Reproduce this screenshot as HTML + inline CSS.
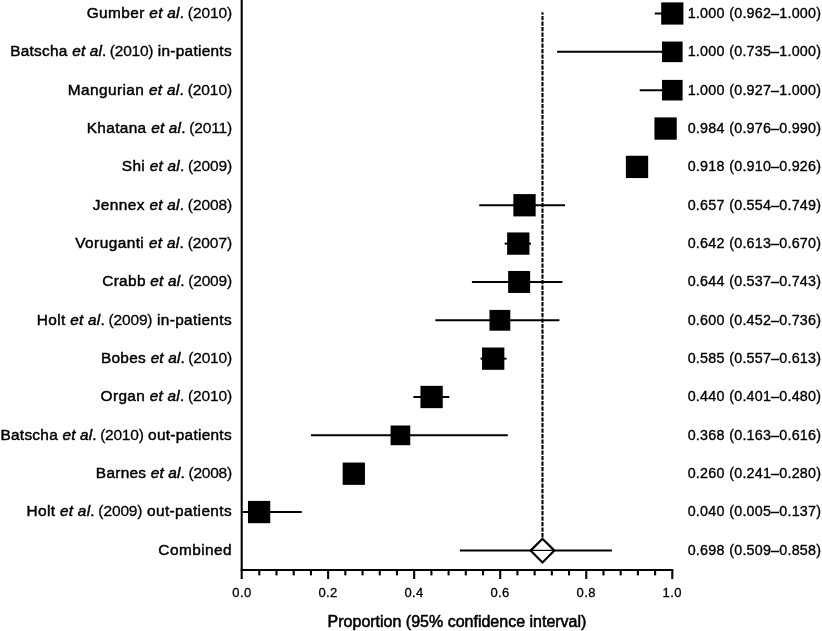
<!DOCTYPE html>
<html><head><meta charset="utf-8"><title>Forest plot</title>
<style>
html,body{margin:0;padding:0;background:#fff;}
svg{display:block;}
text{font-family:"Liberation Sans",Arial,Helvetica,sans-serif;fill:#000;}
.lab{font-size:15.4px;letter-spacing:0.3px;stroke:#000;stroke-width:0.45px;}
.it{font-style:italic;letter-spacing:0.15px;}
.yr{font-size:15.5px;letter-spacing:-0.2px;stroke-width:0.3px;}
.val{font-size:14.3px;letter-spacing:0.22px;word-spacing:0.5px;stroke:#000;stroke-width:0.35px;}
.tick{font-size:13px;letter-spacing:0.4px;stroke:#000;stroke-width:0.3px;}
.title{font-size:16px;letter-spacing:0px;stroke:#000;stroke-width:0.55px;}
</style></head><body>
<svg width="822" height="631" viewBox="0 0 822 631">
<rect width="822" height="631" fill="#fff"/>
<g stroke="#000" stroke-width="2.1" fill="none">
<line x1="241.70" y1="0" x2="241.70" y2="579"/>
<line x1="240.70" y1="570" x2="673.30" y2="570"/>
<line x1="259.31" y1="570" x2="259.31" y2="575.4"/>
<line x1="276.52" y1="570" x2="276.52" y2="575.4"/>
<line x1="293.72" y1="570" x2="293.72" y2="575.4"/>
<line x1="310.93" y1="570" x2="310.93" y2="575.4"/>
<line x1="328.14" y1="570" x2="328.14" y2="579"/>
<line x1="345.35" y1="570" x2="345.35" y2="575.4"/>
<line x1="362.56" y1="570" x2="362.56" y2="575.4"/>
<line x1="379.76" y1="570" x2="379.76" y2="575.4"/>
<line x1="396.97" y1="570" x2="396.97" y2="575.4"/>
<line x1="414.18" y1="570" x2="414.18" y2="579"/>
<line x1="431.39" y1="570" x2="431.39" y2="575.4"/>
<line x1="448.60" y1="570" x2="448.60" y2="575.4"/>
<line x1="465.80" y1="570" x2="465.80" y2="575.4"/>
<line x1="483.01" y1="570" x2="483.01" y2="575.4"/>
<line x1="500.22" y1="570" x2="500.22" y2="579"/>
<line x1="517.43" y1="570" x2="517.43" y2="575.4"/>
<line x1="534.64" y1="570" x2="534.64" y2="575.4"/>
<line x1="551.84" y1="570" x2="551.84" y2="575.4"/>
<line x1="569.05" y1="570" x2="569.05" y2="575.4"/>
<line x1="586.26" y1="570" x2="586.26" y2="579"/>
<line x1="603.47" y1="570" x2="603.47" y2="575.4"/>
<line x1="620.68" y1="570" x2="620.68" y2="575.4"/>
<line x1="637.88" y1="570" x2="637.88" y2="575.4"/>
<line x1="655.09" y1="570" x2="655.09" y2="575.4"/>
<line x1="672.30" y1="570" x2="672.30" y2="579"/>
</g>
<text class="tick" x="242.00" y="596.7" text-anchor="middle">0.0</text>
<text class="tick" x="328.04" y="596.7" text-anchor="middle">0.2</text>
<text class="tick" x="414.08" y="596.7" text-anchor="middle">0.4</text>
<text class="tick" x="500.12" y="596.7" text-anchor="middle">0.6</text>
<text class="tick" x="586.16" y="596.7" text-anchor="middle">0.8</text>
<text class="tick" x="672.20" y="596.7" text-anchor="middle">1.0</text>
<text class="title" x="457" y="626.6" text-anchor="middle">Proportion (95% confidence interval)</text>
<line x1="542.48" y1="12.3" x2="542.48" y2="538" stroke="#000" stroke-width="2.1" stroke-dasharray="4.2 1.3" stroke-dashoffset="1.8"/>
<text class="lab" x="86.65" y="17.90" textLength="145.25" lengthAdjust="spacing">Gumber <tspan class="it">et al</tspan>. <tspan class="yr" dx="-1.2">(2010)</tspan></text>
<text class="val" x="687.7" y="17.90">1.000 (0.962–1.000)</text>
<line x1="654.75" y1="13.50" x2="673.00" y2="13.50" stroke="#000" stroke-width="2"/>
<rect x="661.20" y="2.40" width="22.2" height="22.2" fill="#000"/>
<text class="lab" x="10.15" y="56.25" textLength="221.75" lengthAdjust="spacing">Batscha <tspan class="it">et al</tspan>. <tspan class="yr" dx="-1.2">(2010)</tspan> in-patients</text>
<text class="val" x="687.7" y="56.25">1.000 (0.735–1.000)</text>
<line x1="557.10" y1="51.85" x2="673.00" y2="51.85" stroke="#000" stroke-width="2"/>
<rect x="662.00" y="41.55" width="20.6" height="20.6" fill="#000"/>
<text class="lab" x="67.75" y="94.60" textLength="164.15" lengthAdjust="spacing">Mangurian <tspan class="it">et al</tspan>. <tspan class="yr" dx="-1.2">(2010)</tspan></text>
<text class="val" x="687.7" y="94.60">1.000 (0.927–1.000)</text>
<line x1="639.70" y1="90.20" x2="673.00" y2="90.20" stroke="#000" stroke-width="2"/>
<rect x="662.00" y="79.90" width="20.6" height="20.6" fill="#000"/>
<text class="lab" x="86.75" y="132.95" textLength="145.15" lengthAdjust="spacing">Khatana <tspan class="it">et al</tspan>. <tspan class="yr" dx="-1.2">(2011)</tspan></text>
<text class="val" x="687.7" y="132.95">0.984 (0.976–0.990)</text>
<line x1="660.78" y1="128.55" x2="668.70" y2="128.55" stroke="#000" stroke-width="2"/>
<rect x="654.45" y="117.40" width="22.3" height="22.3" fill="#000"/>
<text class="lab" x="121.75" y="171.30" textLength="110.15" lengthAdjust="spacing">Shi <tspan class="it">et al</tspan>. <tspan class="yr" dx="-1.2">(2009)</tspan></text>
<text class="val" x="687.7" y="171.30">0.918 (0.910–0.926)</text>
<line x1="632.38" y1="166.90" x2="641.17" y2="166.90" stroke="#000" stroke-width="2"/>
<rect x="625.87" y="155.75" width="22.3" height="22.3" fill="#000"/>
<text class="lab" x="92.75" y="209.65" textLength="139.15" lengthAdjust="spacing">Jennex <tspan class="it">et al</tspan>. <tspan class="yr" dx="-1.2">(2008)</tspan></text>
<text class="val" x="687.7" y="209.65">0.657 (0.554–0.749)</text>
<line x1="479.23" y1="205.25" x2="565.02" y2="205.25" stroke="#000" stroke-width="2"/>
<rect x="513.35" y="194.10" width="22.3" height="22.3" fill="#000"/>
<text class="lab" x="75.25" y="248.00" textLength="156.65" lengthAdjust="spacing">Voruganti <tspan class="it">et al</tspan>. <tspan class="yr" dx="-1.2">(2007)</tspan></text>
<text class="val" x="687.7" y="248.00">0.642 (0.613–0.670)</text>
<line x1="504.61" y1="243.60" x2="531.03" y2="243.60" stroke="#000" stroke-width="2"/>
<rect x="507.14" y="232.45" width="22.3" height="22.3" fill="#000"/>
<text class="lab" x="102.25" y="286.35" textLength="129.65" lengthAdjust="spacing">Crabb <tspan class="it">et al</tspan>. <tspan class="yr" dx="-1.2">(2009)</tspan></text>
<text class="val" x="687.7" y="286.35">0.644 (0.537–0.743)</text>
<line x1="471.92" y1="281.95" x2="562.44" y2="281.95" stroke="#000" stroke-width="2"/>
<rect x="508.15" y="270.95" width="22.0" height="22.0" fill="#000"/>
<text class="lab" x="36.85" y="324.70" textLength="195.05" lengthAdjust="spacing">Holt <tspan class="it">et al</tspan>. <tspan class="yr" dx="-1.2">(2009)</tspan> in-patients</text>
<text class="val" x="687.7" y="324.70">0.600 (0.452–0.736)</text>
<line x1="435.35" y1="320.30" x2="559.43" y2="320.30" stroke="#000" stroke-width="2"/>
<rect x="489.50" y="309.90" width="20.8" height="20.8" fill="#000"/>
<text class="lab" x="100.95" y="363.05" textLength="130.95" lengthAdjust="spacing">Bobes <tspan class="it">et al</tspan>. <tspan class="yr" dx="-1.2">(2010)</tspan></text>
<text class="val" x="687.7" y="363.05">0.585 (0.557–0.613)</text>
<line x1="480.52" y1="358.65" x2="506.51" y2="358.65" stroke="#000" stroke-width="2"/>
<rect x="482.05" y="347.50" width="22.3" height="22.3" fill="#000"/>
<text class="lab" x="100.55" y="401.40" textLength="131.35" lengthAdjust="spacing">Organ <tspan class="it">et al</tspan>. <tspan class="yr" dx="-1.2">(2010)</tspan></text>
<text class="val" x="687.7" y="401.40">0.440 (0.401–0.480)</text>
<line x1="413.41" y1="397.00" x2="449.30" y2="397.00" stroke="#000" stroke-width="2"/>
<rect x="420.45" y="385.85" width="22.3" height="22.3" fill="#000"/>
<text class="lab" x="0.45" y="439.75" textLength="231.45" lengthAdjust="spacing">Batscha <tspan class="it">et al</tspan>. <tspan class="yr" dx="-1.2">(2010)</tspan> out-patients</text>
<text class="val" x="687.7" y="439.75">0.368 (0.163–0.616)</text>
<line x1="311.02" y1="435.35" x2="507.80" y2="435.35" stroke="#000" stroke-width="2"/>
<rect x="390.56" y="425.50" width="19.7" height="19.7" fill="#000"/>
<text class="lab" x="95.85" y="478.10" textLength="136.05" lengthAdjust="spacing">Barnes <tspan class="it">et al</tspan>. <tspan class="yr" dx="-1.2">(2008)</tspan></text>
<text class="val" x="687.7" y="478.10">0.260 (0.241–0.280)</text>
<line x1="344.58" y1="473.70" x2="363.26" y2="473.70" stroke="#000" stroke-width="2"/>
<rect x="342.65" y="462.55" width="22.3" height="22.3" fill="#000"/>
<text class="lab" x="26.55" y="516.45" textLength="205.35" lengthAdjust="spacing">Holt <tspan class="it">et al</tspan>. <tspan class="yr" dx="-1.2">(2009)</tspan> out-patients</text>
<text class="val" x="687.7" y="516.45">0.040 (0.005–0.137)</text>
<line x1="243.05" y1="512.05" x2="301.74" y2="512.05" stroke="#000" stroke-width="2"/>
<rect x="247.95" y="500.90" width="22.3" height="22.3" fill="#000"/>
<text class="lab" x="158.35" y="554.80" textLength="73.55" lengthAdjust="spacing">Combined</text>
<text class="val" x="687.7" y="554.80">0.698 (0.509–0.858)</text>
<line x1="459.87" y1="550.40" x2="611.91" y2="550.40" stroke="#000" stroke-width="2"/>
<polygon points="530.58,550.60 542.48,538.70 554.38,550.60 542.48,562.50" fill="#fff" stroke="#000" stroke-width="2.2" stroke-linejoin="miter"/>
<line x1="530.58" y1="550.40" x2="554.38" y2="550.40" stroke="#000" stroke-width="1.2"/>
</svg></body></html>
